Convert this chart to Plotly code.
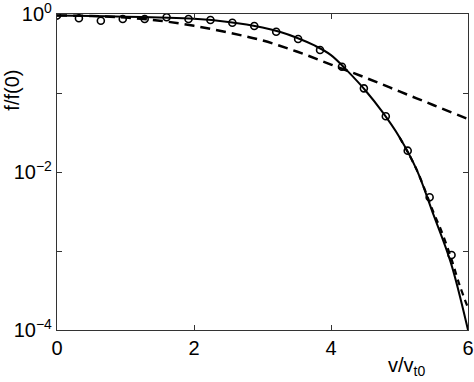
import plotly.graph_objects as go

# --- data (y values as log10(f/f(0))) ---
solid_v = [0, 0.5, 1, 1.5, 2, 2.5, 3, 3.25, 3.5, 3.75, 4, 4.25, 4.5, 4.75, 5, 5.25, 5.5, 5.75, 6]
solid_log = [-0.02, -0.025, -0.035, -0.045, -0.06, -0.10, -0.17, -0.225, -0.30, -0.395, -0.52,
             -0.73, -0.965, -1.24, -1.56, -1.97, -2.55, -3.15, -4.0]

maxw_v = [0, 0.5, 1, 1.5, 2, 2.5, 3, 3.5, 4, 4.5, 5, 5.5, 6]
maxw_log = [-0.02, -0.025, -0.045, -0.085, -0.15, -0.235, -0.335, -0.475, -0.64, -0.805, -0.98, -1.155, -1.33]

fit_v = [5.0, 5.25, 5.5, 5.6, 5.75, 5.88, 6.0]
fit_log = [-1.56, -1.97, -2.52, -2.72, -3.08, -3.44, -3.72]

circ_v = [0, 0.32, 0.64, 0.96, 1.28, 1.6, 1.92, 2.24, 2.56, 2.88, 3.2, 3.52, 3.84, 4.16,
          4.48, 4.8, 5.12, 5.44, 5.76]
circ_log = [-0.02, -0.054, -0.085, -0.063, -0.063, -0.042, -0.063, -0.076, -0.110, -0.152,
            -0.224, -0.316, -0.456, -0.667, -0.941, -1.295, -1.730, -2.320, -3.051]

ytick_vals = [1e-4, 1e-3, 1e-2, 1e-1, 1]
ytick_text = ["10<sup>\u22124</sup>", "", "10<sup>\u22122</sup>", "", "10<sup>0</sup>"]
xtick_vals = [0, 2, 4, 6]

def lin(a):
    return [10 ** v for v in a]

fig = go.Figure()
fig.add_trace(go.Scatter(x=maxw_v, y=lin(maxw_log), mode="lines",
                         line=dict(color="black", width=2.5, dash="10px,6px", shape="spline"),
                         showlegend=False, hoverinfo="skip"))
fig.add_trace(go.Scatter(x=fit_v, y=lin(fit_log), mode="lines",
                         line=dict(color="black", width=2.2, dash="6px,5px", shape="spline"),
                         showlegend=False, hoverinfo="skip"))
fig.add_trace(go.Scatter(x=solid_v, y=lin(solid_log), mode="lines",
                         line=dict(color="black", width=2, shape="spline"),
                         showlegend=False, hoverinfo="skip"))
fig.add_trace(go.Scatter(x=circ_v, y=lin(circ_log), mode="markers",
                         marker=dict(symbol="circle-open", size=7, color="black",
                                     line=dict(width=1.6, color="black")),
                         showlegend=False, hoverinfo="skip"))

font = dict(family="Liberation Sans, Arial, sans-serif", size=20, color="black")

fig.update_layout(
    width=474, height=382,
    margin=dict(l=57, r=6, t=14, b=52, autoexpand=False),
    paper_bgcolor="white", plot_bgcolor="white",
    font=font,
    xaxis=dict(range=[0, 6], tickvals=xtick_vals, ticks="inside", ticklen=5,
               showline=True, linecolor="#333", linewidth=1.2, mirror="ticks",
               showgrid=False, zeroline=False, tickfont=font, tickcolor="#333",
               automargin=False, ticklabeloverflow="allow"),
    yaxis=dict(type="log", range=[-4, 0], tickvals=ytick_vals, ticktext=ytick_text,
               ticks="inside", ticklen=5, showline=True, linecolor="#333", linewidth=1.2,
               mirror="ticks", showgrid=False, zeroline=False, tickfont=font, tickcolor="#333",
               automargin=False, ticklabeloverflow="allow"),
    annotations=[
        dict(text="f/f(0)", xref="paper", yref="paper", x=-0.11, y=0.76,
             xanchor="center", yanchor="middle", textangle=-90, showarrow=False, font=font),
        dict(text="v/v<sub>t0</sub>", xref="paper", yref="paper", x=0.85, y=-0.07,
             xanchor="center", yanchor="top", showarrow=False, font=font),
    ],
)

fig.write_html("out.html", config={"displayModeBar": False},
               post_script="document.body.style.margin='0';document.body.style.padding='0';")
